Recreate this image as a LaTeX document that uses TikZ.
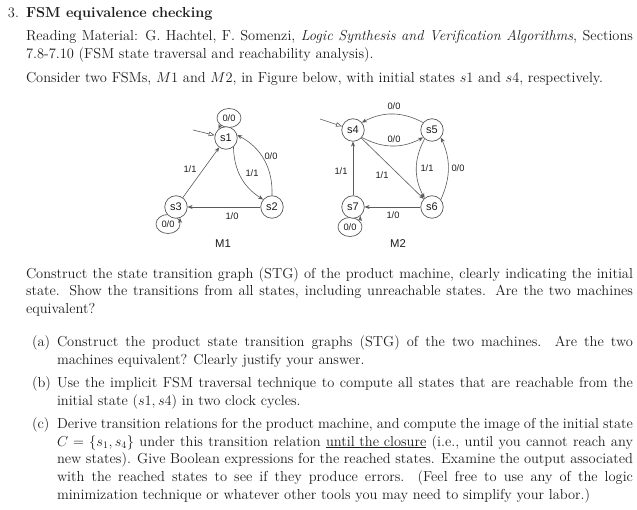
\documentclass[tikz,border=0pt]{standalone}
\usepackage{fontspec}
\usetikzlibrary{arrows.meta,shapes.geometric}
\newfontfamily\diagfont{Liberation Sans}
\definecolor{ink}{HTML}{1C1C1C}
\definecolor{wire}{HTML}{5A5A5A}
\tikzset{
  txt/.style={anchor=base west,inner sep=0pt,outer sep=0pt,text=ink,font=\fontsize{14.45}{17}\selectfont},
  state/.style={circle,draw=wire,fill=white,line width=0.7pt,minimum size=22.5pt,inner sep=0pt,text=ink,font=\diagfont\fontsize{11}{13}\selectfont},
  loopnode/.style={ellipse,draw=wire,line width=0.7pt,minimum width=24pt,minimum height=19pt,inner sep=0pt,text=ink,font=\diagfont\fontsize{9.3}{11}\selectfont},
  lab/.style={inner sep=0pt,text=ink,font=\diagfont\fontsize{9.3}{11}\selectfont},
  captext/.style={inner sep=0pt,text=ink,font=\diagfont\fontsize{11.3}{13}\selectfont},
  edge/.style={draw=wire,line width=0.6pt,-{Stealth[length=5pt,width=4pt]}},
  initedge/.style={draw=wire,line width=0.6pt,-{Triangle[open,length=6pt,width=4.5pt]}}
}
\newcommand{\jl}[1]{\hbox to 607pt{#1}}
\newcommand{\il}[1]{\hbox to 576pt{#1}}
\begin{document}
\begin{tikzpicture}[x=1pt,y=-1pt]
\useasboundingbox (0,0) rectangle (637,510);
\fill[white] (0,0) rectangle (637,510);
% text
\node[txt] (t0) at (8,18) {3.};
\node[txt] (t1) at (26,18) {\bfseries FSM equivalence checking};
\node[txt] (t2) at (26,41) {\jl{Reading Material: G. Hachtel, F. Somenzi, \textit{Logic Synthesis and Verification Algorithms}, Sections}};
\node[txt] (t3) at (26,59) {7.8-7.10 (FSM state traversal and reachability analysis).};
\node[txt] (t4) at (26,83) {Consider two FSMs, $M1$ and $M2$, in Figure below, with initial states $s1$ and $s4$, respectively.};
\node[txt] (t5) at (26,279) {\jl{Construct the state transition graph (STG) of the product machine, clearly indicating the initial}};
\node[txt] (t6) at (26,296) {\jl{state. Show the transitions from all states, including unreachable states. Are the two machines}};
\node[txt] (t7) at (26,314) {equivalent?};
\node[txt] (a0) at (32,347) {(a)};
\node[txt] (a1) at (57,347) {\il{Construct the product state transition graphs (STG) of the two machines. Are the two}};
\node[txt] (a2) at (57,365) {machines equivalent? Clearly justify your answer.};
\node[txt] (b0) at (32,388) {(b)};
\node[txt] (b1) at (57,388) {\il{Use the implicit FSM traversal technique to compute all states that are reachable from the}};
\node[txt] (b2) at (57,406) {initial state $(s1,s4)$ in two clock cycles.};
\node[txt] (c0) at (32,428) {(c)};
\node[txt] (c1) at (57,428) {\il{Derive transition relations for the product machine, and compute the image of the initial state}};
\node[txt] (c2) at (57,446) {\il{$C=\{s_1,s_4\}$ under this transition relation \underline{until the closure} (i.e., until you cannot reach any}};
\node[txt] (c3) at (57,463) {\il{new states). Give Boolean expressions for the reached states. Examine the output associated}};
\node[txt] (c4) at (57,481) {\il{with the reached states to see if they produce errors. (Feel free to use any of the logic}};
\node[txt] (c5) at (57,499) {minimization technique or whatever other tools you may need to simplify your labor.)};
% M1
\node[loopnode] (l1) at (229,118) {0/0};
\node[loopnode] (l3) at (168,224) {0/0};
\node[state] (s1) at (226,138) {s1};
\node[state] (s2) at (272,207) {s2};
\node[state] (s3) at (176,207) {s3};
\coordinate (i1) at (193,130);
\draw[initedge] (i1) -- (s1);
\draw[edge] (l1.south west) -- (s1.130);
\draw[edge] (l3.10) -- (s3.-70);
\draw[edge] (s3) -- (s1);
\draw[edge] (s2) -- (s3);
\draw[edge] (s1.-50) to[bend right=28] (s2.140);
\draw[edge] (s2.north) to[bend right=32] (s1.15);
\node[lab] (e1) at (190,169) {1/1};
\node[lab] (e2) at (252,173) {1/1};
\node[lab] (e3) at (271,156) {0/0};
\node[lab] (e4) at (232,216) {1/0};
\node[captext] (m1) at (223,244) {M1};
% M2
\node[loopnode] (l7) at (350,227) {0/0};
\node[state] (s4) at (353,130) {s4};
\node[state] (s5) at (432,130) {s5};
\node[state] (s6) at (432,207) {s6};
\node[state] (s7) at (353,207) {s7};
\coordinate (i4) at (320,119);
\draw[initedge] (i4) -- (s4);
\draw[edge] (l7.30) -- (s7.-50);
\draw[edge] (s5.140) to[bend right=28] (s4.40);
\draw[edge] (s4.-40) to[bend right=28] (s5.-140);
\draw[edge] (s4) -- (s6);
\draw[edge] (s5.-130) to[bend right=28] (s6.130);
\draw[edge] (s6.40) to[bend right=24] (s5.-40);
\draw[edge] (s6) -- (s7);
\draw[edge] (s7) -- (s4);
\node[lab] (f1) at (394,106) {0/0};
\node[lab] (f2) at (394,139) {0/0};
\node[lab] (f3) at (382,175) {1/1};
\node[lab] (f4) at (427,168) {1/1};
\node[lab] (f5) at (458,168) {0/0};
\node[lab] (f6) at (393,215) {1/0};
\node[lab] (f7) at (341,171) {1/1};
\node[captext] (m2) at (398,244) {M2};
\end{tikzpicture}
\end{document}
